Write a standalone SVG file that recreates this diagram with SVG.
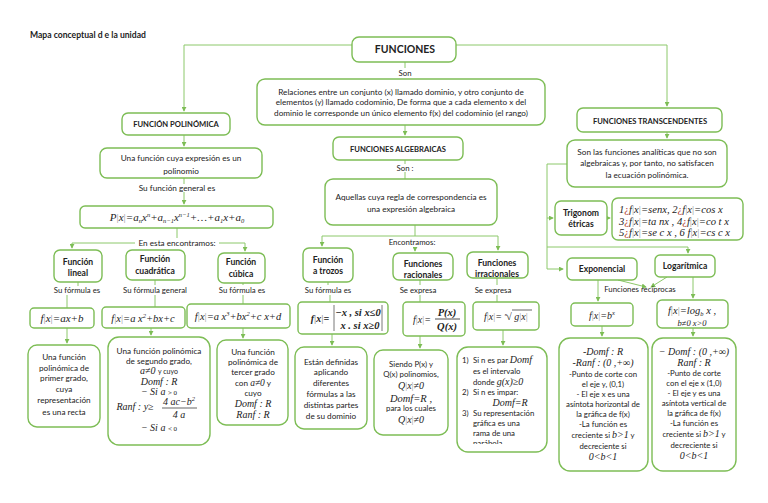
<svg xmlns="http://www.w3.org/2000/svg" width="768" height="503" viewBox="0 0 768 503">
<defs>
<marker id="ar" viewBox="0 0 6 6" refX="5" refY="3" markerWidth="5" markerHeight="5" orient="auto"><path d="M0,0 L6,3 L0,6 z" fill="#7dbd55"/></marker>
<clipPath id="clipIrr"><rect x="455" y="340" width="95" height="104"/></clipPath>
<style>
.box{fill:#fff;stroke:#7dbd55;stroke-width:1.4}
.c{fill:none;stroke:#8cc86a;stroke-width:1}
.a{marker-end:url(#ar)}
.t{font-family:Lato,"Open Sans","Liberation Sans",sans-serif;font-size:8.2px;fill:#222;text-anchor:middle}
.s{font-size:7.8px}
.h{font-weight:bold;font-size:7.6px}
.h2{font-weight:bold;font-size:8.6px}
.m{font-family:"Liberation Serif",serif;font-style:italic;font-size:10px;fill:#222;text-anchor:middle}
.ms{font-size:6.5px}
.mb{font-weight:bold}
.l{text-anchor:start}
.red{fill:#b03a2e;font-style:normal}
.bar{fill:#999;font-style:normal}
</style>
</defs>
<rect width="768" height="503" fill="#fff"/>
<text class="t l h" x="30" y="38" style="font-size:8.6px">Mapa conceptual d e la unidad</text>

<g id="connectors">
<path class="c a" d="M352,45 H184 V111"/>
<path class="c a" d="M456,45 H667 V106"/>
<path class="c" d="M405,62 V68"/>
<path class="c a" d="M405,125 V135"/>
<path class="c" d="M405,160 V164"/>
<path class="c" d="M405,172 V179"/>
<path class="c" d="M415,225 V236 M322,236 H498"/>
<path class="c a" d="M322,236 V246"/>
<path class="c a" d="M498,236 V250"/>
<path class="c a" d="M415,247 V251"/>
<path class="c a" d="M184,135 V146"/>
<path class="c" d="M184,178 V184"/>
<path class="c a" d="M184,192 V204"/>
<path class="c" d="M177,228 V238"/>
<path class="c" d="M72,243 H135 M219,243 H245"/>
<path class="c a" d="M72,243 V248"/>
<path class="c a" d="M245,243 V251"/>
<path class="c" d="M78,282 V286 M67,295 V308"/>
<path class="c" d="M155,280 V285 M155,295 V307"/>
<path class="c" d="M243,283 V285 M243,295 V304"/>
<path class="c" d="M328,282 V285 M330,295 V302"/>
<path class="c" d="M420,280 V285 M420,295 V302"/>
<path class="c" d="M497,278 V285 M497,295 V302"/>
<path class="c a" d="M67,328 V343"/>
<path class="c a" d="M151,328 V335"/>
<path class="c a" d="M243,328 V338"/>
<path class="c a" d="M332,334 V345"/>
<path class="c a" d="M420,336 V348"/>
<path class="c a" d="M503,330 V345"/>
<path class="c a" d="M667,132 V138"/>
<path class="c" d="M567,164 H547 V269"/>
<path class="c a" d="M547,269 H563"/>
<path class="c a" d="M547,218 H553"/>
<path class="c a" d="M547,247 H688 V253"/>
<path class="c a" d="M607,218 H610"/>
<path class="c a" d="M618,280 L646,287"/>
<path class="c a" d="M667,277 L651,287"/>
<path class="c a" d="M598,280 V301"/>
<path class="c a" d="M693,277 V298"/>
<path class="c a" d="M602,326 V336"/>
<path class="c a" d="M693,328 V336"/>
</g>

<g id="labels">
<text class="t s" x="405" y="75.5">Son</text>
<text class="t s" x="405" y="170.5">Son :</text>
<text class="t s" x="412" y="245">Encontramos:</text>
<text class="t" x="177" y="190.5">Su función general es</text>
<text class="t" x="177" y="245.5">En esta encontramos:</text>
<text class="t s" x="77" y="292.5">Su fórmula es</text>
<text class="t s" x="155" y="292.5">Su fórmula general</text>
<text class="t s" x="242" y="292.5">Su fórmula es</text>
<text class="t s" x="328" y="292.5">Su fórmula es</text>
<text class="t s" x="418" y="292.5">Se expresa</text>
<text class="t s" x="493" y="292.5">Se expresa</text>
<text class="t s" x="640" y="291.5">Funciones recíprocas</text>
</g>

<g id="funciones"><rect class="box" x="352" y="37" width="104" height="25" rx="7"/><text class="t h" x="405" y="53" style="font-size:10.5px">FUNCIONES</text></g>

<g id="relaciones"><rect class="box" x="257" y="79" width="288" height="46" rx="8"/>
<text class="t" x="401" y="94.5">Relaciones entre un conjunto (x) llamado dominio, y otro conjunto de</text>
<text class="t" x="401" y="105">elementos (y) llamado codominio, De forma que a cada elemento  x del</text>
<text class="t" x="401" y="116">dominio le corresponde un único elemento f(x) del codominio (el rango)</text></g>

<g id="algebraicas"><rect class="box" x="333" y="137" width="130" height="23" rx="6"/><text class="t h" x="398" y="151.5">FUNCIONES ALGEBRAICAS</text></g>

<g id="aquellas"><rect class="box" x="325" y="179" width="172" height="46" rx="8"/>
<text class="t" x="411" y="200">Aquellas cuya regla de correspondencia es</text>
<text class="t" x="411" y="212">una expresión algebraica</text></g>

<g id="polinomica"><rect class="box" x="122" y="113" width="108" height="22" rx="6"/><text class="t h" x="176" y="127">FUNCIÓN POLINÓMICA</text></g>

<g id="una-funcion"><rect class="box" x="100" y="148" width="162" height="30" rx="7"/>
<text class="t" x="181" y="161">Una función cuya expresión es un</text>
<text class="t" x="181" y="174">polinomio</text></g>

<g id="px"><rect class="box" x="80" y="206" width="193" height="22" rx="5"/>
<text class="m" x="177" y="221" style="font-size:11px">P<tspan class="bar">|</tspan>x<tspan class="bar">|</tspan>=a<tspan class="ms" dy="2">n</tspan><tspan dy="-2">x</tspan><tspan class="ms" dy="-4">n</tspan><tspan dy="4">+a</tspan><tspan class="ms" dy="2">n−1</tspan><tspan dy="-2">x</tspan><tspan class="ms" dy="-4">n−1</tspan><tspan dy="4">+…+a</tspan><tspan class="ms" dy="2">1</tspan><tspan dy="-2">x+a</tspan><tspan class="ms" dy="2">0</tspan></text></g>

<g id="lineal"><rect class="box" x="54" y="250" width="48" height="32" rx="6"/>
<text class="t h2" x="78" y="264.5">Función</text><text class="t h2" x="78" y="275.5">lineal</text></g>
<g id="cuadratica"><rect class="box" x="126" y="250" width="59" height="30" rx="6"/>
<text class="t h2" x="155" y="262">Función</text><text class="t h2" x="155" y="273.5">cuadrática</text></g>
<g id="cubica"><rect class="box" x="218" y="253" width="47" height="30" rx="6"/>
<text class="t h2" x="241" y="265">Función</text><text class="t h2" x="241" y="277">cúbica</text></g>

<g id="f-lineal"><rect class="box" x="30" y="308" width="64" height="20" rx="4"/>
<text class="m" x="62" y="322" style="font-size:11px">f<tspan class="bar">|</tspan>x<tspan class="bar">|</tspan>=ax+b</text></g>
<g id="f-cuadratica"><rect class="box" x="102" y="307" width="83" height="21" rx="4"/>
<text class="m" x="143" y="322" style="font-size:10.5px">f<tspan class="bar">|</tspan>x<tspan class="bar">|</tspan>=a x<tspan class="ms" dy="-4">2</tspan><tspan dy="4">+bx+c</tspan></text></g>
<g id="f-cubica"><rect class="box" x="187" y="304" width="103" height="24" rx="4"/>
<text class="m" x="238" y="320" style="font-size:10.5px">f<tspan class="bar">|</tspan>x<tspan class="bar">|</tspan>=a x<tspan class="ms" dy="-4">3</tspan><tspan dy="4">+bx</tspan><tspan class="ms" dy="-4">2</tspan><tspan dy="4">+c x+d</tspan></text></g>

<g id="d-lineal"><rect class="box" x="28" y="345" width="72" height="82" rx="9"/>
<text class="t" x="64" y="360">Una función</text>
<text class="t" x="64" y="371">polinómica de</text>
<text class="t" x="64" y="381">primer grado,</text>
<text class="t" x="64" y="392">cuya</text>
<text class="t" x="64" y="403">representación</text>
<text class="t" x="64" y="415">es una  recta</text></g>

<g id="d-cuadratica"><rect class="box" x="108" y="337" width="102" height="108" rx="11"/>
<text class="t" x="159" y="353.5">Una función polinómica</text>
<text class="t" x="159" y="363.5">de segundo grado,</text>
<text class="m" x="159" y="373.5">a≠0 <tspan class="t" style="font-style:normal;font-size:7px"> y cuyo</tspan></text>
<text class="m" x="159" y="384.5">Domf : R</text>
<text class="m" x="159" y="395">− Si a <tspan style="font-style:normal;font-size:7px">&gt; 0</tspan></text>
<text class="m" x="135" y="410">Ranf : y≥</text>
<text class="m" x="179" y="405">4 ac−b<tspan class="ms" dy="-4">2</tspan></text>
<line x1="162" y1="408" x2="197" y2="408" stroke="#222" stroke-width="0.7"/>
<text class="m" x="179" y="418">4 a</text>
<text class="m" x="159" y="431">− Si a <tspan style="font-style:normal;font-size:7px">&lt; 0</tspan></text></g>

<g id="d-cubica"><rect class="box" x="217" y="340" width="71" height="85" rx="9"/>
<text class="t" x="253" y="355">Una función</text>
<text class="t" x="253" y="365">polinómica de</text>
<text class="t" x="253" y="375">tercer grado</text>
<text class="t" x="253" y="386">con <tspan class="m" style="font-size:9.5px">a≠0</tspan>  y</text>
<text class="t" x="253" y="396">cuyo</text>
<text class="m" x="253" y="407">Domf : R</text>
<text class="m" x="253" y="418">Ranf : R</text></g>

<g id="trozos"><rect class="box" x="303" y="248" width="50" height="34" rx="6"/>
<text class="t h2" x="328" y="263">Función</text><text class="t h2" x="328" y="274">a trozos</text></g>
<g id="racionales"><rect class="box" x="393" y="253" width="60" height="27" rx="6"/>
<text class="t h2" x="423" y="267">Funciones</text><text class="t h2" x="423" y="277.5">racionales</text></g>
<g id="irracionales"><rect class="box" x="467" y="252" width="61" height="26" rx="6"/>
<text class="t h2" x="497" y="266">Funciones</text><text class="t h2" x="497" y="276.5">irracionales</text></g>

<g id="f-trozos"><rect class="box" x="298" y="302" width="90" height="32" rx="4"/>
<text class="m mb" x="320" y="321.5">f<tspan class="bar">|</tspan>x<tspan class="bar">|</tspan>=</text>
<line x1="334" y1="305" x2="334" y2="331" stroke="#555" stroke-width="0.8"/>
<line x1="382" y1="305" x2="382" y2="331" stroke="#555" stroke-width="0.8"/>
<text class="m mb" x="358" y="316" style="font-size:10.5px">−x , si x≤0</text>
<text class="m mb" x="360" y="328.5" style="font-size:10.5px">x . si x≥0</text></g>

<g id="f-racionales"><rect class="box" x="403" y="302" width="62" height="34" rx="4"/>
<text class="m" x="422" y="323">f<tspan class="bar">|</tspan>x<tspan class="bar">|</tspan>=</text>
<text class="m mb" x="447" y="316" style="font-size:10.5px">P(x)</text>
<line x1="435" y1="319" x2="460" y2="319" stroke="#222" stroke-width="0.8"/>
<text class="m mb" x="447" y="330" style="font-size:10.5px">Q(x)</text></g>

<g id="f-irracionales"><rect class="box" x="473" y="302" width="66" height="28" rx="4"/>
<text class="m" x="493" y="320">f<tspan class="bar">|</tspan>x<tspan class="bar">|</tspan>=</text>
<text class="m" x="506" y="316" style="font-size:5px">n</text>
<text class="m" x="509" y="320" style="font-style:normal">√</text>
<line x1="512" y1="310" x2="532" y2="310" stroke="#222" stroke-width="0.7"/>
<text class="m" x="521" y="320">g<tspan class="bar">|</tspan>x<tspan class="bar">|</tspan></text></g>

<g id="d-trozos"><rect class="box" x="295" y="347" width="72" height="82" rx="9"/>
<text class="t" x="331" y="365">Están definidas</text>
<text class="t" x="331" y="375">aplicando</text>
<text class="t" x="331" y="386">diferentes</text>
<text class="t" x="331" y="397">fórmulas a las</text>
<text class="t" x="331" y="408">distintas partes</text>
<text class="t" x="331" y="419">de su dominio</text></g>

<g id="d-racionales"><rect class="box" x="374" y="350" width="74" height="85" rx="9"/>
<text class="t s" x="411" y="367">Siendo P(x) y</text>
<text class="t s" x="411" y="377">Q(x) polinomios,</text>
<text class="m" x="411" y="389">Q<tspan class="bar">|</tspan>x<tspan class="bar">|</tspan>≠0</text>
<text class="m" x="411" y="402" style="font-size:10.5px">Domf=R ,</text>
<text class="t s" x="411" y="411">para los cuales</text>
<text class="m" x="411" y="423">Q<tspan class="bar">|</tspan>x<tspan class="bar">|</tspan>≠0</text></g>

<g id="d-irracionales"><rect class="box" x="457" y="347" width="90" height="105" rx="11"/>
<g clip-path="url(#clipIrr)">
<text class="t s l" x="462" y="363">1)</text><text class="t s l" x="473" y="363">Si n es par <tspan class="m" style="font-size:10px">Domf</tspan></text>
<text class="t s l" x="473" y="374">es el intervalo</text>
<text class="t s l" x="473" y="385">donde <tspan class="m" style="font-size:10px">g(x)≥0</tspan></text>
<text class="t s l" x="462" y="395">2)</text><text class="t s l" x="473" y="395">Si n es impar:</text>
<text class="m" x="510" y="405.5" style="font-size:10px">Domf=R</text>
<text class="t s l" x="462" y="416">3)</text><text class="t s l" x="473" y="416">Su  representación</text>
<text class="t s l" x="473" y="426">gráfica es una</text>
<text class="t s l" x="473" y="436">rama de una</text>
<text class="t s l" x="473" y="446">parábola</text>
</g></g>

<g id="transcendentes"><rect class="box" x="577" y="108" width="145" height="24" rx="6"/><text class="t h" x="650" y="123.5">FUNCIONES TRANSCENDENTES</text></g>

<g id="son-las"><rect class="box" x="567" y="140" width="160" height="47" rx="8"/>
<text class="t" x="647" y="155">Son las funciones analíticas que no son</text>
<text class="t" x="647" y="166">algebraicas y, por tanto, no satisfacen</text>
<text class="t" x="647" y="178">la ecuación polinómica.</text></g>

<g id="trigonometricas"><rect class="box" x="555" y="201" width="52" height="34" rx="6"/>
<text class="t h2" x="581" y="216">Trigonom</text><text class="t h2" x="581" y="227">étricas</text></g>

<g id="f-trig"><rect class="box" x="612" y="198" width="131" height="42" rx="6"/>
<text class="m" x="619" y="213" style="font-size:10.6px;text-anchor:start">1<tspan class="red">¿</tspan>f<tspan class="bar">|</tspan>x<tspan class="bar">|</tspan>=senx, 2<tspan class="red">¿</tspan>f<tspan class="bar">|</tspan>x<tspan class="bar">|</tspan>=cos x</text>
<text class="m" x="619" y="225" style="font-size:10.6px;text-anchor:start">3<tspan class="red">¿</tspan>f<tspan class="bar">|</tspan>x<tspan class="bar">|</tspan>=ta nx , 4<tspan class="red">¿</tspan>f<tspan class="bar">|</tspan>x<tspan class="bar">|</tspan>=co t x</text>
<text class="m" x="619" y="236" style="font-size:10.6px;text-anchor:start">5<tspan class="red">¿</tspan>f<tspan class="bar">|</tspan>x<tspan class="bar">|</tspan>=se c x , 6 f<tspan class="bar">|</tspan>x<tspan class="bar">|</tspan>=cs c x</text></g>

<g id="exponencial"><rect class="box" x="567" y="258" width="70" height="22" rx="5"/><text class="t h2" x="602" y="272">Exponencial</text></g>
<g id="logaritmica"><rect class="box" x="655" y="255" width="60" height="22" rx="5"/><text class="t h2" x="685" y="269">Logarítmica</text></g>

<g id="f-exp"><rect class="box" x="571" y="303" width="62" height="23" rx="4"/>
<text class="m" x="602" y="318.5">f<tspan class="bar">|</tspan>x<tspan class="bar">|</tspan>=b<tspan class="ms" dy="-4">x</tspan></text></g>
<g id="f-log"><rect class="box" x="657" y="300" width="71" height="28" rx="5"/>
<text class="m" x="692" y="313.5" style="font-size:10.5px">f<tspan class="bar">|</tspan>x<tspan class="bar">|</tspan>=log<tspan class="ms" dy="2">b</tspan><tspan dy="-2"> x ,</tspan></text>
<text class="m" x="692" y="325.5" style="font-size:8.5px">b≠0   x&gt;0</text></g>

<g id="d-exp"><rect class="box" x="559" y="338" width="89" height="133" rx="11"/>
<text class="m" x="603" y="355">-Domf : R</text>
<text class="m" x="603" y="365.5">-Ranf : (0 ,+∞)</text>
<text class="t s" x="603" y="376.5">-Punto de corte con</text>
<text class="t s" x="603" y="386.5">el eje y, (0,1)</text>
<text class="t s" x="603" y="396.5">- El eje x es una</text>
<text class="t s" x="603" y="406.5">asíntota horizontal de</text>
<text class="t s" x="603" y="416.5">la gráfica de f(x)</text>
<text class="t s" x="603" y="426.5">-La función es</text>
<text class="t s" x="603" y="437.5">creciente si <tspan class="m" style="font-size:10px">b&gt;1</tspan>  y</text>
<text class="t s" x="603" y="448.5">decreciente si</text>
<text class="m" x="603" y="460">0&lt;b&lt;1</text></g>

<g id="d-log"><rect class="box" x="652" y="338" width="84" height="133" rx="11"/>
<text class="m" x="694" y="355">− Domf : (0 ,+∞)</text>
<text class="m" x="694" y="365.5">Ranf : R</text>
<text class="t s" x="694" y="375.5">-Punto de corte</text>
<text class="t s" x="694" y="385.5">con el eje x (1,0)</text>
<text class="t s" x="694" y="395.5">- El eje y es una</text>
<text class="t s" x="694" y="405.5">asíntota  vertical de</text>
<text class="t s" x="694" y="415.5">la gráfica de f(x)</text>
<text class="t s" x="694" y="425.5">-La función es</text>
<text class="t s" x="694" y="436.5">creciente si <tspan class="m" style="font-size:10px">b&gt;1</tspan>  y</text>
<text class="t s" x="694" y="447.5">decreciente si</text>
<text class="m" x="694" y="459">0&lt;b&lt;1</text></g>
</svg>
